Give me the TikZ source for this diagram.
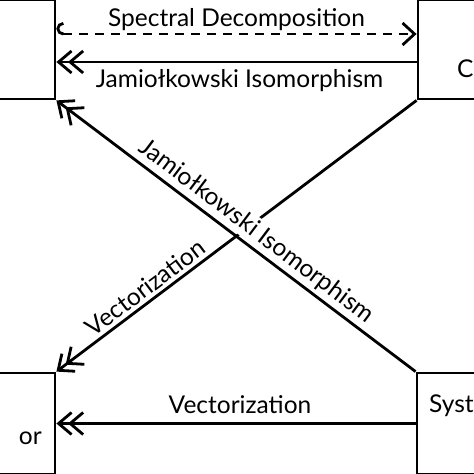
\documentclass[tikz,border=0pt]{standalone}
\usepackage{fontspec}
\setmainfont{Lato}
\usetikzlibrary{arrows.meta}
\begin{document}
\begin{tikzpicture}[x=1pt,y=1pt,
  font=\fontsize{24.5pt}{29pt}\selectfont,
  box/.style={draw, line width=2.8pt, rectangle, inner sep=0pt, minimum width=155pt},
  conn/.style={line width=2.8pt},
  dbl/.style={-{Straight Barb[length=13pt,width=22pt,sep=-5pt]Straight Barb[length=13pt,width=22pt]}},
  dashconn/.style={dash pattern=on 9pt off 7pt, {Hooks[right,length=7pt,width=24pt]}-{Straight Barb[length=12pt,width=22pt]}},
  frag/.style={inner sep=0pt}
]
\useasboundingbox (0,0) rectangle (474,474);
\clip (0,0) rectangle (474,474);
% boxes (partly outside the picture)
\node[box, minimum height=99pt]  (tl) at (-22.5,424.5) {};
\node[box, minimum height=99pt]  (tr) at (495.5,424.5) {};
\node[box, minimum height=101pt] (bl) at (-22.5,50.5) {};
\node[box, minimum height=101pt] (br) at (494.5,50.5) {};
% visible fragments of box texts
\node[frag, anchor=base west] (trtext) at (457,396) {C};
\node[frag, anchor=base west] (brtext) at (429,61) {Syst};
\node[frag, anchor=base east] (bltext) at (42,29) {or};
% connectors
\draw[conn, dashconn] ([yshift=15.5pt]tl.east) --
  node[midway, anchor=base, yshift=7pt] (lsd) {Spectral Decomposition}
  ([yshift=15.5pt]tr.west);
\draw[conn, dbl] ([yshift=-12.5pt]tr.west) --
  node[midway, xshift=3pt, anchor=base, yshift=-26pt] (lji1) {Jamiołkowski Isomorphism}
  ([yshift=-12.5pt]tl.east);
\draw[conn, dbl] (tr.south west) --
  node[pos=0.73, sloped, anchor=base, yshift=5pt] (lv1) {Vectorization}
  (bl.north east);
\draw[conn, dbl] (br.north west) --
  node[pos=0.47, sloped, anchor=south, yshift=1.4pt, fill=white, inner sep=2pt] (lji2) {Jamiołkowski Isomorphism}
  (tl.south east);
\draw[conn, dbl] (br.west) --
  node[midway, xshift=4pt, anchor=base, yshift=10pt] (lv2) {Vectorization}
  (bl.east);
\end{tikzpicture}
\end{document}
